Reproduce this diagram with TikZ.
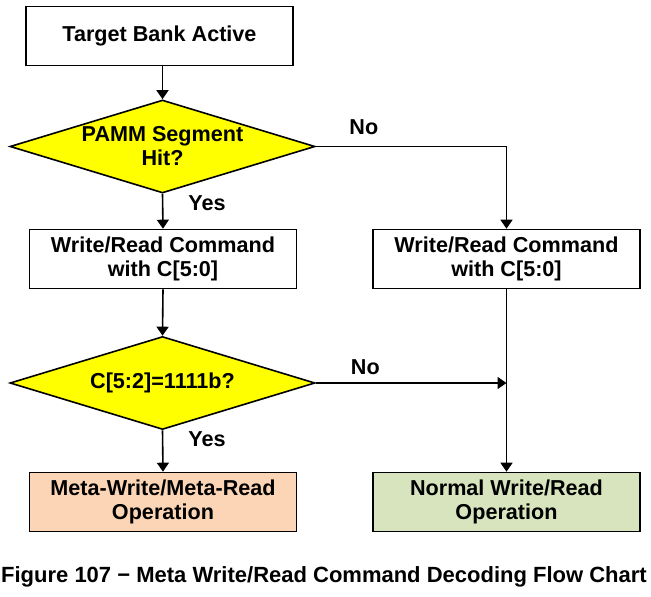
\documentclass[tikz,border=0pt]{standalone}
\usepackage{fontspec}
\setmainfont{Liberation Sans}
\usetikzlibrary{arrows.meta,positioning,shapes.geometric}
\definecolor{Peach}{HTML}{FBD5B5}
\definecolor{Olive}{HTML}{D7E4BD}
\definecolor{Yellow}{HTML}{FFFF00}

\begin{document}
\begin{tikzpicture}[x=1pt,y=-1pt,font=\fontsize{21.6}{24}\selectfont\bfseries,
  box/.style={draw,line width=1.6pt,minimum width=267pt,minimum height=59pt,inner sep=0pt,align=center},
  decision/.style={diamond,draw,line width=1.6pt,fill=Yellow,shape aspect=3.28,minimum width=305pt,minimum height=93pt,inner sep=0pt,align=center},
  arr/.style={-{Triangle[length=9pt,width=12pt]},line width=1.6pt}]
  \useasboundingbox (0,0) rectangle (651,597);
  \node[box] (active) at (159.5,36) {Target Bank Active};
  \node[decision] (pamm) at (162.5,146.5) {PAMM Segment\\Hit?};
  \node[box] (cmdL) at (163,259) {Write/Read Command\\with C[5:0]};
  \node[box] (cmdR) at (506.5,259) {Write/Read Command\\with C[5:0]};
  \node[decision] (check) at (162.5,383) {C[5:2]=1111b?};
  \node[box,fill=Peach] (meta) at (163,502) {Meta-Write/Meta-Read\\Operation};
  \node[box,fill=Olive] (normal) at (506.5,502) {Normal Write/Read\\Operation};
  \node[font=\fontsize{22}{24}\selectfont\bfseries] (caption) at (324,577) {Figure 107 − Meta Write/Read Command Decoding Flow Chart};
  \coordinate (join) at (check.east -| cmdR.south);
  \draw[arr] (pamm.north |- active.south) -- (pamm.north);
  \draw[arr] (pamm.south) -- node[pos=0.27,right=25pt,inner sep=0pt] {Yes} (cmdL.north);
  \draw[arr] (pamm.east) -| node[pos=0.126,above=11pt,inner sep=0pt] {No} (cmdR.north);
  \draw[arr] (cmdL.south) -- (check.north);
  \draw[arr] (check.south) -- node[pos=0.22,right=25pt,inner sep=0pt] {Yes} (meta.north);
  \draw[arr] (check.east) -- node[pos=0.26,above=7pt,inner sep=0pt] {No} (join);
  \draw[arr] (cmdR.south) -- (normal.north);
\end{tikzpicture}
\end{document}
